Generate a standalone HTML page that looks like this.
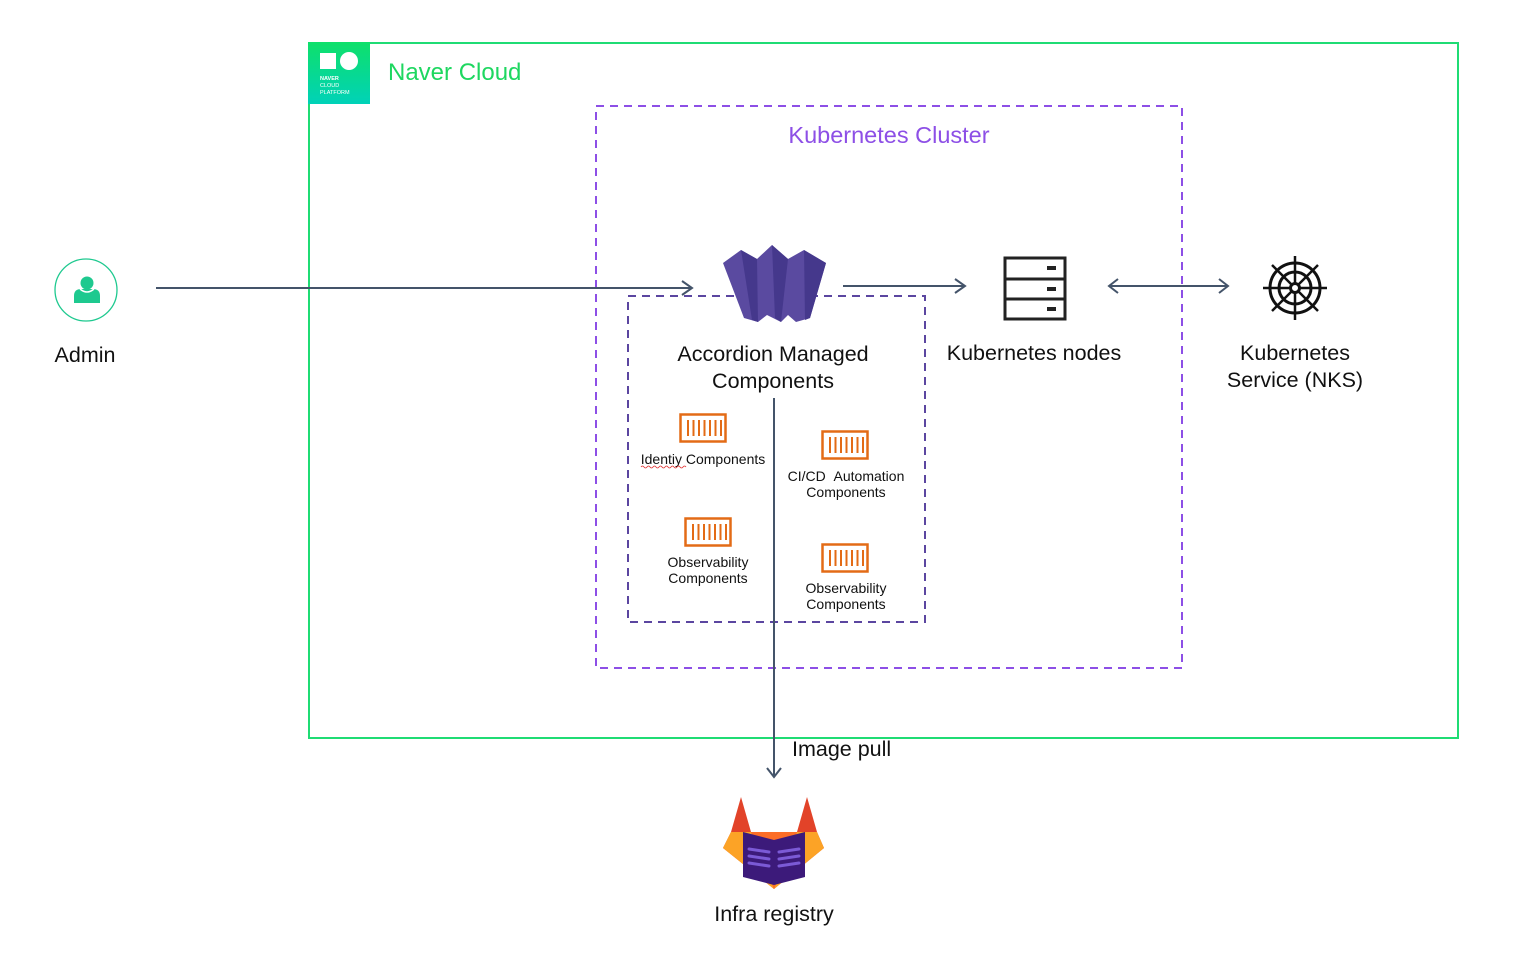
<!DOCTYPE html>
<html><head><meta charset="utf-8"><style>
html,body{margin:0;padding:0;background:#fff;}
svg{display:block;}
text{font-family:"Liberation Sans",Arial,sans-serif;}
</style></head><body>
<svg width="1522" height="956" viewBox="0 0 1522 956" xmlns="http://www.w3.org/2000/svg">
<defs>
<linearGradient id="ng" x1="0" y1="0" x2="0" y2="1"><stop offset="0" stop-color="#0fe06a"/><stop offset="1" stop-color="#00d2b8"/></linearGradient>
<g id="cont">
<rect x="1.5" y="1.5" width="45" height="27" fill="none" stroke="#e36b16" stroke-width="2.5"/>
<g stroke="#e36b16" stroke-width="2"><line x1="9" y1="7" x2="9" y2="23"/><line x1="14.5" y1="7" x2="14.5" y2="23"/><line x1="20" y1="7" x2="20" y2="23"/><line x1="25.5" y1="7" x2="25.5" y2="23"/><line x1="31" y1="7" x2="31" y2="23"/><line x1="36.5" y1="7" x2="36.5" y2="23"/><line x1="42" y1="7" x2="42" y2="23"/></g>
</g>
</defs>
<rect x="309" y="43" width="1149" height="695" fill="none" stroke="#1fdc74" stroke-width="2"/>
<rect x="308" y="42" width="62" height="62" fill="url(#ng)"/>
<rect x="320" y="53" width="16" height="16" fill="#fff"/>
<circle cx="349" cy="61" r="9" fill="#fff"/>
<text x="320" y="80" font-size="5.5" font-weight="bold" fill="#fff">NAVER</text>
<text x="320" y="87" font-size="5.5" fill="#fff">CLOUD</text>
<text x="320" y="94" font-size="5.5" fill="#fff">PLATFORM</text>
<text x="388" y="80" font-size="24" fill="#1ed760">Naver Cloud</text>
<rect x="596" y="106" width="586" height="562" fill="none" stroke="#8d4fe6" stroke-width="2" stroke-dasharray="8,6"/>
<text x="889" y="143" font-size="23.5" fill="#8d4fe6" text-anchor="middle">Kubernetes Cluster</text>
<rect x="628" y="296" width="297" height="326" fill="none" stroke="#5b46a0" stroke-width="2" stroke-dasharray="8,6"/>
<circle cx="86" cy="290" r="31" fill="none" stroke="#1ec98f" stroke-width="1.3"/>
<circle cx="87" cy="283" r="6.5" fill="#1ec98f"/>
<path d="M74 303 L74 296 Q74 289 81 289 L93 289 Q100 289 100 296 L100 303 Z" fill="#1ec98f"/>
<path d="M80 289 Q87 295 94 289" fill="none" stroke="#fff" stroke-width="1.5"/>
<text x="85" y="362" font-size="21.5" fill="#111" text-anchor="middle">Admin</text>
<g stroke="#44546a" stroke-width="2" fill="none">
<line x1="156" y1="288" x2="692" y2="288"/><path d="M682 281 L692 288 L682 295"/>
<line x1="843" y1="286" x2="965" y2="286"/><path d="M955 279 L965 286 L955 293"/>
<line x1="1109" y1="286" x2="1228" y2="286"/><path d="M1118 279 L1109 286 L1118 293"/><path d="M1219 279 L1228 286 L1219 293"/>
<line x1="774" y1="398" x2="774" y2="777"/><path d="M767 768 L774 777 L781 768"/>
</g>
<path d="M723 263 L741 250 L757 259 L772 245 L788 259 L804 250 L826 263 L810 318 L796 322 L788 315 L781 322 L767 315 L758 322 L744 318 Z" fill="#5a4aa0"/>
<g fill="#45388c"><path d="M741 250 L757 259 L758 322 L752 320 Z"/><path d="M772 245 L788 259 L781 322 L775 318 Z"/><path d="M804 250 L826 263 L810 318 L805 320 Z"/></g>
<text x="773" y="361" font-size="21.5" fill="#111" text-anchor="middle">Accordion Managed</text>
<text x="773" y="388" font-size="21.5" fill="#111" text-anchor="middle">Components</text>
<use href="#cont" x="679" y="413"/>
<text x="703" y="464" font-size="14" fill="#111" text-anchor="middle">Identiy Components</text>
<path d="M641 467 q1.5 -2 3 0 t3 0 t3 0 t3 0 t3 0 t3 0 t3 0 t3 0 t3 0 t3 0 t3 0 t3 0 t3 0 t3 0 t3 0" fill="none" stroke="#e03030" stroke-width="0.8"/>
<use href="#cont" x="821" y="430"/>
<text x="846" y="481" font-size="14" fill="#111" text-anchor="middle">CI/CD &#160;Automation</text>
<text x="846" y="497" font-size="14" fill="#111" text-anchor="middle">Components</text>
<use href="#cont" x="684" y="517"/>
<text x="708" y="567" font-size="14" fill="#111" text-anchor="middle">Observability</text>
<text x="708" y="583" font-size="14" fill="#111" text-anchor="middle">Components</text>
<use href="#cont" x="821" y="543"/>
<text x="846" y="593" font-size="14" fill="#111" text-anchor="middle">Observability</text>
<text x="846" y="609" font-size="14" fill="#111" text-anchor="middle">Components</text>
<rect x="1005" y="258" width="60" height="61" fill="none" stroke="#222" stroke-width="3"/>
<line x1="1005" y1="279" x2="1065" y2="279" stroke="#222" stroke-width="3"/>
<line x1="1005" y1="299" x2="1065" y2="299" stroke="#222" stroke-width="3"/>
<g fill="#222"><rect x="1047" y="266" width="9" height="4"/><rect x="1047" y="287" width="9" height="4"/><rect x="1047" y="307" width="9" height="4"/></g>
<text x="1034" y="360" font-size="21.5" fill="#111" text-anchor="middle">Kubernetes nodes</text>
<g stroke="#111" fill="none" stroke-width="3">
<circle cx="1295" cy="288" r="25"/>
<circle cx="1295" cy="288" r="16"/>
<circle cx="1295" cy="288" r="4.5"/>
<g stroke-width="2.5">
<line x1="1295" y1="256" x2="1295" y2="283"/><line x1="1295" y1="293" x2="1295" y2="320"/>
<line x1="1263" y1="288" x2="1290" y2="288"/><line x1="1300" y1="288" x2="1327" y2="288"/>
<line x1="1272" y1="265" x2="1292" y2="285"/><line x1="1298" y1="291" x2="1318" y2="311"/>
<line x1="1318" y1="265" x2="1298" y2="285"/><line x1="1292" y1="291" x2="1272" y2="311"/>
</g></g>
<text x="1295" y="360" font-size="21.5" fill="#111" text-anchor="middle">Kubernetes</text>
<text x="1295" y="387" font-size="21.5" fill="#111" text-anchor="middle">Service (NKS)</text>
<text x="792" y="756" font-size="21.5" fill="#111">Image pull</text>
<path d="M741 797 L751 832 L797 832 L807 797 L817 832 L824 848 L774 889 L723 848 L731 832 Z" fill="#e24329"/>
<path d="M723 848 L731 832 L751 832 L774 889 Z" fill="#fca326"/>
<path d="M824 848 L817 832 L797 832 L774 889 Z" fill="#fca326"/>
<path d="M751 832 L797 832 L774 889 Z" fill="#fc6d26"/>
<path d="M743 832 L774 840 L805 832 L805 877 L774 885 L743 877 Z" fill="#3c1a7a"/>
<g stroke="#7b5ad6" stroke-width="3" stroke-linecap="round">
<line x1="749" y1="849" x2="769" y2="852"/><line x1="749" y1="856" x2="769" y2="859"/><line x1="749" y1="863" x2="769" y2="866"/>
<line x1="779" y1="852" x2="799" y2="849"/><line x1="779" y1="859" x2="799" y2="856"/><line x1="779" y1="866" x2="799" y2="863"/>
</g>
<text x="774" y="921" font-size="21.5" fill="#111" text-anchor="middle">Infra registry</text>
</svg>
</body></html>
